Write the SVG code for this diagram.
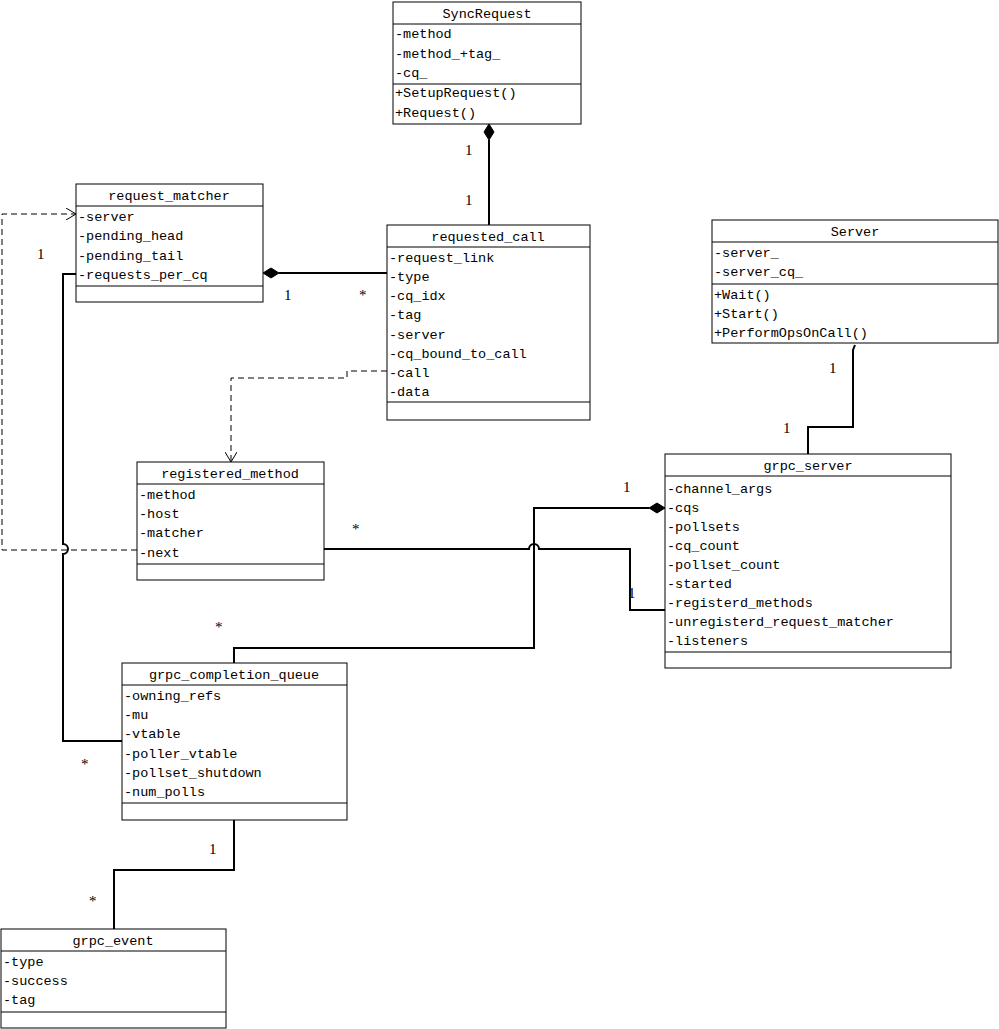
<svg xmlns="http://www.w3.org/2000/svg" width="999" height="1029" viewBox="0 0 999 1029">
<style>
rect{fill:#fff;stroke:#000;stroke-width:1}
.d{stroke:#000;stroke-width:1}
text{font-family:"Liberation Mono","DejaVu Sans Mono",monospace;font-size:13.5px;fill:#000}
.t{text-anchor:middle}
.c path,.c line,.c polyline{fill:none;stroke:#000;stroke-width:2}
.c .dash{stroke-width:1;stroke-dasharray:6,4}
.lbl{font-family:"Liberation Serif",serif;font-size:15px}
</style>
<defs>
<marker id="open" markerWidth="12" markerHeight="12" refX="10" refY="6" orient="auto" markerUnits="userSpaceOnUse"><path d="M0,0 L10,6 L0,12" fill="none" stroke="#000" stroke-width="1"/></marker>
</defs>
<rect x="0" y="0" width="999" height="1029" style="stroke:none"/>
<g class="c">
<line x1="489" y1="140" x2="489" y2="225"/>
<path d="M489,124 L494,132 L489,140 L484,132 Z" style="fill:#000;stroke:#000;stroke-width:1"/>
<line x1="279" y1="273" x2="387" y2="273"/>
<path d="M263,273 L271,268 L279,273 L271,278 Z" style="fill:#000;stroke:#000;stroke-width:1"/>
<polyline class="dash" points="137,550 2,550 2,214 76,214" marker-end="url(#open)"/>
<polyline class="dash" points="387,371 347,371 347,378 231,378 231,462" marker-end="url(#open)"/>
<polyline points="855,345 853,350 853,427 808,427 808,454"/>
<polyline points="234,663 234,648 534,648 534,508 649,508"/>
<path d="M665,508 L657,503 L649,508 L657,513 Z" style="fill:#000;stroke:#000;stroke-width:1"/>
<path d="M324,549 L529,549 A5,5 0 0 1 539,549 L630,549 L630,610 L665,610"/>
<path d="M76,274 L63,274 L63,544 A5,5 0 0 1 63,554 L63,741 L122,741"/>
<polyline points="234,820 234,870 114,870 114,929"/>
</g>
<g class="lbl">
<text x="465" y="155" class="lbl">1</text><text x="465" y="205" class="lbl">1</text>
<text x="284" y="300" class="lbl">1</text><text x="359" y="300" class="lbl">*</text>
<text x="37" y="259" class="lbl">1</text>
<text x="829" y="373" class="lbl">1</text><text x="783" y="433" class="lbl">1</text>
<text x="623" y="492" class="lbl">1</text><text x="215" y="632" class="lbl">*</text>
<text x="352" y="534" class="lbl">*</text><text x="628" y="598" class="lbl">1</text>
<text x="81" y="769" class="lbl">*</text>
<text x="209" y="854" class="lbl">1</text><text x="89" y="906" class="lbl">*</text>
</g>
<g id="SyncRequest">
<rect x="393" y="2" width="188" height="122"/><line class="d" x1="393" y1="24" x2="581" y2="24"/><line class="d" x1="393" y1="84" x2="581" y2="84"/>
<text x="487" y="18" class="t">SyncRequest</text>
<text x="395" y="38">-method</text><text x="395" y="58">-method_+tag_</text><text x="395" y="77">-cq_</text>
<text x="395" y="97">+SetupRequest()</text><text x="395" y="117">+Request()</text>
</g>
<g id="request_matcher">
<rect x="76" y="184" width="187" height="118"/><line class="d" x1="76" y1="206" x2="263" y2="206"/><line class="d" x1="76" y1="286" x2="263" y2="286"/>
<text x="169" y="200" class="t">request_matcher</text>
<text x="78" y="221">-server</text><text x="78" y="240">-pending_head</text><text x="78" y="260">-pending_tail</text><text x="78" y="279">-requests_per_cq</text>
</g>
<g id="requested_call">
<rect x="387" y="225" width="203" height="195"/><line class="d" x1="387" y1="247" x2="590" y2="247"/><line class="d" x1="387" y1="402" x2="590" y2="402"/>
<text x="488" y="241" class="t">requested_call</text>
<text x="389" y="262">-request_link</text><text x="389" y="281">-type</text><text x="389" y="300">-cq_idx</text><text x="389" y="319">-tag</text><text x="389" y="339">-server</text><text x="389" y="358">-cq_bound_to_call</text><text x="389" y="377">-call</text><text x="389" y="396">-data</text>
</g>
<g id="Server">
<rect x="712" y="220" width="286" height="123"/><line class="d" x1="712" y1="242" x2="998" y2="242"/><line class="d" x1="712" y1="284" x2="998" y2="284"/>
<text x="855" y="236" class="t">Server</text>
<text x="714" y="257">-server_</text><text x="714" y="276">-server_cq_</text>
<text x="714" y="299">+Wait()</text><text x="714" y="318">+Start()</text><text x="714" y="337">+PerformOpsOnCall()</text>
</g>
<g id="registered_method">
<rect x="137" y="462" width="187" height="118"/><line class="d" x1="137" y1="484" x2="324" y2="484"/><line class="d" x1="137" y1="564" x2="324" y2="564"/>
<text x="230" y="478" class="t">registered_method</text>
<text x="139" y="499">-method</text><text x="139" y="518">-host</text><text x="139" y="537">-matcher</text><text x="139" y="557">-next</text>
</g>
<g id="grpc_server">
<rect x="665" y="454" width="286" height="214"/><line class="d" x1="665" y1="476" x2="951" y2="476"/><line class="d" x1="665" y1="652" x2="951" y2="652"/>
<text x="808" y="470" class="t">grpc_server</text>
<text x="667" y="493">-channel_args</text><text x="667" y="512">-cqs</text><text x="667" y="531">-pollsets</text><text x="667" y="550">-cq_count</text><text x="667" y="569">-pollset_count</text><text x="667" y="588">-started</text><text x="667" y="607">-registerd_methods</text><text x="667" y="626">-unregisterd_request_matcher</text><text x="667" y="645">-listeners</text>
</g>
<g id="grpc_completion_queue">
<rect x="122" y="663" width="225" height="157"/><line class="d" x1="122" y1="685" x2="347" y2="685"/><line class="d" x1="122" y1="803" x2="347" y2="803"/>
<text x="234" y="679" class="t">grpc_completion_queue</text>
<text x="124" y="700">-owning_refs</text><text x="124" y="719">-mu</text><text x="124" y="738">-vtable</text><text x="124" y="758">-poller_vtable</text><text x="124" y="777">-pollset_shutdown</text><text x="124" y="796">-num_polls</text>
</g>
<g id="grpc_event">
<rect x="1" y="929" width="225" height="99"/><line class="d" x1="1" y1="951" x2="226" y2="951"/><line class="d" x1="1" y1="1012" x2="226" y2="1012"/>
<text x="113" y="945" class="t">grpc_event</text>
<text x="3" y="966">-type</text><text x="3" y="985">-success</text><text x="3" y="1004">-tag</text>
</g>
</svg>
